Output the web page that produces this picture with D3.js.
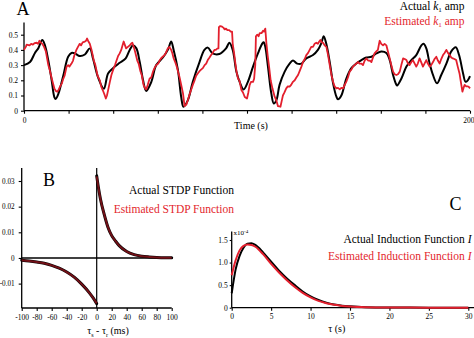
<!DOCTYPE html>
<html><head><meta charset="utf-8">
<script src="https://cdn.jsdelivr.net/npm/d3@7"></script>
<style>
body{margin:0;background:#fff}
svg{display:block}
text{font-family:"Liberation Serif","Times New Roman",serif}
</style>
</head><body>
<svg id="chart" width="474" height="338"></svg>
<script>
// ---- Panel A: k1 amplitude over time ----
const actualT = [0,2.7,4.9,6.4,8.2,9.4,10.9,12.4,13.6,14.2,15.4,17.6,19.8,21.3,22.8,25,27.3,29.5,31,33.2,35.8,37.7,39.9,42.9,45.6,47.4,48.9,50.4,51.9,53.4,54.8,57.1,59.3,62.3,64.5,66,67.1,69,70.5,71.5,73.5,75.7,78.7,80.9,82.4,84.6,87.6,90.6,92.1,93.6,95.2,96.7,98.5,100.4,102.7,104.9,106.9,107.5,108.2,109.4,110.9,112,113.2,114.6,116.9,119.1,120.6,122.5,124.4,126.6,129.6,131.8,133.3,134.4,135.5,137.1,138.6,140.1,140.8,142.3,144.5,146.8,149,151.3,153.5,155.8,158,160.2,162.5,164,165.5,167,167.3,169.2,171.5,173.7,175.9,178.2,179.2,180.4,181.9,183.4,185.2,187.1,189.4,191.6,193.6,195.1,196.9,198,199,200];
const actualK = [0.30,0.32,0.38,0.41,0.465,0.43,0.33,0.20,0.09,0.077,0.11,0.23,0.355,0.38,0.377,0.36,0.37,0.41,0.34,0.22,0.145,0.245,0.28,0.315,0.345,0.40,0.43,0.41,0.32,0.20,0.13,0.19,0.30,0.35,0.40,0.455,0.40,0.27,0.09,0.026,0.07,0.19,0.32,0.40,0.415,0.377,0.373,0.41,0.447,0.40,0.26,0.19,0.14,0.19,0.29,0.377,0.443,0.45,0.42,0.29,0.114,0.048,0.07,0.17,0.257,0.31,0.33,0.31,0.31,0.344,0.366,0.40,0.443,0.49,0.443,0.32,0.18,0.092,0.075,0.10,0.21,0.28,0.31,0.333,0.35,0.355,0.377,0.39,0.38,0.333,0.235,0.17,0.165,0.21,0.29,0.333,0.366,0.43,0.44,0.41,0.31,0.235,0.18,0.235,0.31,0.39,0.417,0.366,0.245,0.19,0.20,0.228];

const estT = [0,0.8,1.2,2.5,3.2,4,4.8,5.7,6.3,6.9,7.5,8.2,9,9.8,10.9,11.5,12.3,13,13.6,14.3,14.9,15.6,16.2,17,17.6,18.2,19.1,19.8,20.4,21.3,22,22.5,23.5,24.2,25,25.6,26.3,27.3,27.8,28.3,28.9,29.5,30.3,31.3,32,33,34,34.6,35.3,36,36.7,37.2,37.8,38.5,39.2,40,40.8,41.5,42.2,42.9,43.6,44.2,44.7,45.3,45.8,46.6,47.4,48,48.6,49.2,49.8,50.8,51.4,52.2,52.8,53.6,54.2,54.8,55.5,56.3,57.1,57.8,58.5,59.3,60.2,60.8,61.5,62.2,63,63.6,64.5,65.2,66,66.5,67.1,67.8,68.5,69.2,69.7,70.5,71.3,72,72.8,73.5,74.3,75,75.7,76.5,77.2,77.9,78.7,79.4,80.2,81,81.7,82.4,83.2,83.9,84.6,85.4,86,86.8,87.2,87.4,88,88.8,89.5,90,90.6,91.2,92,92.7,93.3,93.6,94.2,94.8,95.3,96,96.6,97.5,98.2,99,100,100.6,101.2,101.8,102.7,103.2,103.7,104,104.6,105.2,105.7,106.5,107.2,107.6,108.2,108.7,109.3,109.9,110.6,111.4,112.4,113.1,113.9,115,115.5,116.1,116.8,117.6,118.3,119.1,119.8,120.6,121.4,122.2,122.9,123.6,124.4,125.1,125.9,126.6,127.4,128.1,128.8,129.6,130.3,131.1,131.8,132.4,132.9,133.5,134.1,134.8,135.6,136.3,137.1,137.8,138.6,139.3,140.1,140.8,141.6,142.3,143.1,143.8,144.5,145.3,146,146.8,147.5,148.2,149,149.8,150.5,151.3,152,152.8,153.5,154.3,155,155.8,156.5,157.2,158,158.7,159.2,159.5,160.2,161,161.7,162.5,163.2,164,164.7,165.5,166.2,167,167.7,168.5,169.2,170,170.7,171.5,172.2,172.9,173.7,174.4,175.2,175.9,176.6,177.4,178.1,178.9,179.6,180.4,181.1,181.9,182.6,183.4,184.1,184.9,185.6,186.4,187.1,187.9,188.6,189.4,190.1,190.9,191.6,192.3,193,193.8,194.5,195.3,196,196.6,197.1,197.6,198.3,199.1,199.6,200];
const estK = [0.40,0.42,0.435,0.43,0.44,0.435,0.445,0.447,0.44,0.46,0.45,0.44,0.42,0.39,0.30,0.27,0.22,0.18,0.147,0.13,0.125,0.14,0.16,0.18,0.21,0.23,0.29,0.30,0.29,0.31,0.33,0.36,0.40,0.42,0.44,0.43,0.45,0.455,0.46,0.475,0.455,0.44,0.40,0.33,0.30,0.23,0.20,0.16,0.136,0.11,0.08,0.10,0.14,0.19,0.235,0.27,0.30,0.33,0.36,0.377,0.40,0.43,0.455,0.43,0.41,0.42,0.43,0.44,0.447,0.42,0.39,0.33,0.31,0.26,0.235,0.17,0.15,0.14,0.17,0.21,0.22,0.255,0.28,0.30,0.31,0.33,0.345,0.355,0.366,0.38,0.41,0.42,0.40,0.38,0.345,0.32,0.29,0.25,0.224,0.17,0.114,0.03,0.04,0.07,0.11,0.14,0.17,0.20,0.23,0.245,0.26,0.27,0.28,0.30,0.31,0.333,0.35,0.366,0.38,0.40,0.40,0.41,0.41,0.55,0.557,0.553,0.545,0.535,0.54,0.53,0.53,0.52,0.52,0.44,0.38,0.31,0.257,0.21,0.20,0.136,0.12,0.09,0.08,0.12,0.17,0.19,0.19,0.21,0.30,0.49,0.50,0.49,0.51,0.51,0.526,0.52,0.54,0.443,0.36,0.29,0.20,0.147,0.092,0.07,0.03,0.026,0.06,0.10,0.12,0.147,0.16,0.158,0.17,0.19,0.20,0.22,0.235,0.26,0.29,0.32,0.34,0.366,0.38,0.40,0.42,0.42,0.44,0.447,0.44,0.455,0.465,0.45,0.447,0.43,0.42,0.37,0.30,0.24,0.19,0.16,0.147,0.15,0.14,0.15,0.147,0.17,0.19,0.22,0.257,0.27,0.29,0.30,0.31,0.32,0.31,0.31,0.30,0.33,0.344,0.33,0.33,0.32,0.35,0.377,0.39,0.40,0.44,0.46,0.44,0.43,0.44,0.43,0.39,0.344,0.30,0.257,0.24,0.235,0.24,0.257,0.30,0.344,0.34,0.333,0.31,0.30,0.32,0.333,0.31,0.29,0.31,0.344,0.32,0.29,0.31,0.333,0.31,0.29,0.30,0.32,0.34,0.355,0.33,0.31,0.34,0.366,0.38,0.40,0.38,0.366,0.35,0.344,0.34,0.333,0.29,0.245,0.18,0.125,0.15,0.17,0.16,0.16,0.155,0.147];

const timeTicksA = [0,20,40,60,80,100,120,140,160,180,200];
const ampTicksA = [0,0.1,0.2,0.3,0.4,0.5];

// ---- Panel B: STDP function (two branches) ----
const stdpPreT = [-100,-90,-80,-70,-60,-50,-40,-30,-20,-10,-5,0];
const stdpPreActual = [-0.0009,-0.0012,-0.0016,-0.0021,-0.0029,-0.0040,-0.0055,-0.0075,-0.0102,-0.0135,-0.0155,-0.0178];
const stdpPreEst = [-0.0009,-0.0012,-0.0016,-0.0021,-0.0029,-0.0040,-0.0055,-0.0075,-0.0102,-0.0135,-0.0155,-0.0177];
const stdpPostT = [0,2,5,10,15,20,25,30,40,50,60,70,80,90,100];
const stdpPostActual = [0.032,0.028,0.023,0.017,0.012,0.0087,0.0066,0.0048,0.0025,0.0013,0.0007,0.0004,0.0002,0.0001,0.0001];
const stdpPostEst = [0.0318,0.028,0.023,0.017,0.012,0.0087,0.0066,0.0048,0.0025,0.0013,0.0007,0.0004,0.0002,0.0001,0.0001];
const lagTicksB = [-100,-80,-60,-40,-20,0,20,40,60,80,100];
const wTicksB = [-0.01,0,0.01,0.02,0.03];

// ---- Panel C: induction function (x10^-4) ----
const tauC = [0,0.5,1,1.5,2,2.5,3,4,5,6,7,8,9,10,11,12,13,14,15,17,20,25,30];
const inducActual = [0.32,0.85,1.15,1.33,1.42,1.43,1.39,1.22,1.02,0.82,0.65,0.50,0.36,0.25,0.17,0.11,0.07,0.045,0.03,0.012,0.004,0.001,0];
const inducEst = [0.72,1.05,1.27,1.37,1.40,1.39,1.35,1.18,0.97,0.78,0.61,0.46,0.33,0.23,0.15,0.10,0.065,0.04,0.025,0.01,0.003,0.001,0];
const tauTicksC = [0,5,10,15,20,25,30];
const valTicksC = [0,0.5,1.0,1.5];

const RED = "#e31f2d";
const svg = d3.select("#chart");
const zip = (xs, ys) => xs.map((x, i) => [x, ys[i]]);
// plain hyphen for negative numbers, as in the printed figure
const hy = s => String(s).replace("\u2212", "-");

function styleAxis(g, size) {
  g.select(".domain").remove();
  g.selectAll(".tick line").attr("stroke", "#000").attr("stroke-width", 1.1);
  g.selectAll(".tick text").attr("font-family", "Liberation Serif, serif").attr("font-size", size).attr("fill", "#000");
}
function vline(x, y1, y2, w) {
  svg.append("line").attr("x1", x).attr("x2", x).attr("y1", y1).attr("y2", y2).attr("stroke", "#000").attr("stroke-width", w || 1.3);
}
function hline(y, x1, x2, w) {
  svg.append("line").attr("x1", x1).attr("x2", x2).attr("y1", y).attr("y2", y).attr("stroke", "#000").attr("stroke-width", w || 1.3);
}

// ===== Panel A =====
const xA = d3.scaleLinear().domain([0, 200]).range([24, 470]);
const yA = d3.scaleLinear().domain([0, 0.5]).range([110.7, 34.7]);

svg.append("g").attr("transform", `translate(0,${yA(0)})`)
  .call(d3.axisBottom(xA).tickValues(timeTicksA).tickSize(3).tickPadding(4)
    .tickFormat(d => (d === 0 || d === 200) ? d : ""))
  .call(g => styleAxis(g, 7.5))
  .call(g => g.selectAll(".tick text").filter(d => d === 200).attr("text-anchor", "end").attr("dx", 4));
svg.append("g").attr("transform", `translate(${xA(0)},0)`)
  .call(d3.axisLeft(yA).tickValues(ampTicksA).tickSize(3).tickPadding(3)
    .tickFormat(d => d === 0 ? "0" : d3.format(".1f")(d)))
  .call(g => styleAxis(g, 7.5));
vline(xA(0), yA(0), yA(0.58));
hline(yA(0), xA(0), xA(200));

svg.append("path").datum(zip(actualT, actualK))
  .attr("d", d3.line().x(d => xA(d[0])).y(d => yA(d[1])).curve(d3.curveCatmullRom.alpha(0.5)))
  .attr("fill", "none").attr("stroke", "#000").attr("stroke-width", 2);
svg.append("path").datum(zip(estT, estK))
  .attr("d", d3.line().x(d => xA(d[0])).y(d => yA(d[1])))
  .attr("fill", "none").attr("stroke", RED).attr("stroke-width", 1.8).attr("stroke-linejoin", "round");

svg.append("text").attr("x", 16.5).attr("y", 15).attr("font-size", 18).text("A");
svg.append("text").attr("x", 251).attr("y", 129).attr("text-anchor", "middle").attr("font-size", 10).text("Time (s)");

function kLegend(y, label, color) {
  const t = svg.append("text").attr("x", 464.5).attr("y", y).attr("text-anchor", "end")
    .attr("font-size", 11.5).attr("fill", color);
  t.append("tspan").text(label + " ");
  t.append("tspan").attr("font-style", "italic").text("k");
  t.append("tspan").attr("font-size", 7).attr("dy", 2.5).text("1");
  t.append("tspan").attr("dy", -2.5).text(" amp");
}
kLegend(9.5, "Actual", "#000");
kLegend(24.5, "Estimated", RED);

// ===== Panel B =====
const xB = d3.scaleLinear().domain([-100, 100]).range([21.7, 171.7]);
const yB = d3.scaleLinear().domain([-0.01, 0.03]).range([283.6, 181]);

svg.append("g").attr("transform", `translate(0,308)`)
  .call(d3.axisBottom(xB).tickValues(lagTicksB).tickSize(3).tickPadding(3.5).tickFormat(d => hy(d)))
  .call(g => styleAxis(g, 7.5));
svg.append("g").attr("transform", `translate(${xB(-100)},0)`)
  .call(d3.axisLeft(yB).tickValues(wTicksB).tickSize(3).tickPadding(4)
    .tickFormat(d => d === 0 ? "0" : hy(d3.format(".2f")(d))))
  .call(g => styleAxis(g, 7.2));
vline(xB(-100), 168, 308);
hline(308, xB(-100), xB(100));
hline(yB(0), xB(-100), xB(100), 1.4);
vline(xB(0), 168, 308, 1.2);

const lineB = d3.line().x(d => xB(d[0])).y(d => yB(d[1])).curve(d3.curveMonotoneX);
[[stdpPreT, stdpPreActual], [stdpPostT, stdpPostActual]].forEach(([t, v]) => {
  svg.append("path").attr("d", lineB(zip(t, v))).attr("fill", "none")
    .attr("stroke", "#000").attr("stroke-width", 3).attr("stroke-linecap", "round");
});
[[stdpPreT, stdpPreEst], [stdpPostT, stdpPostEst]].forEach(([t, v]) => {
  svg.append("path").attr("d", lineB(zip(t, v))).attr("fill", "none")
    .attr("stroke", RED).attr("stroke-opacity", 0.5).attr("stroke-width", 2);
});

svg.append("text").attr("x", 43).attr("y", 186).attr("font-size", 18).text("B");
svg.append("text").attr("x", 234).attr("y", 194).attr("text-anchor", "end").attr("font-size", 11.5).text("Actual STDP Function");
svg.append("text").attr("x", 234).attr("y", 213).attr("text-anchor", "end").attr("font-size", 11.5).attr("fill", RED).text("Estimated STDP Function");

const lb = svg.append("text").attr("x", 108).attr("y", 334).attr("text-anchor", "middle").attr("font-size", 10);
lb.append("tspan").text("τ");
lb.append("tspan").attr("font-size", 6).attr("dy", 2.5).text("s");
lb.append("tspan").attr("dy", -2.5).text(" - τ");
lb.append("tspan").attr("font-size", 6).attr("dy", 2.5).text("r");
lb.append("tspan").attr("dy", -2.5).text(" (ms)");

// ===== Panel C =====
const xC = d3.scaleLinear().domain([0, 30]).range([231.7, 468.3]);
const yC = d3.scaleLinear().domain([0, 1.5]).range([307.7, 240]);

svg.append("g").attr("transform", `translate(0,${yC(0)})`)
  .call(d3.axisBottom(xC).tickValues(tauTicksC).tickSize(3).tickPadding(3))
  .call(g => styleAxis(g, 7.5));
svg.append("g").attr("transform", `translate(${xC(0)},0)`)
  .call(d3.axisLeft(yC).tickValues(valTicksC).tickSize(2).tickPadding(2)
    .tickFormat(d => d === 0 ? "0" : d3.format(".1f")(d)))
  .call(g => styleAxis(g, 7.5));
vline(xC(0), yC(0), 231.5);
hline(yC(0), xC(0), 474);

const lineC = d3.line().x(d => xC(d[0])).y(d => yC(d[1])).curve(d3.curveMonotoneX);
svg.append("path").attr("d", lineC(zip(tauC, inducActual))).attr("fill", "none")
  .attr("stroke", "#000").attr("stroke-width", 2);
svg.append("path").attr("d", lineC(zip(tauC, inducEst))).attr("fill", "none")
  .attr("stroke", RED).attr("stroke-width", 2);

const sc = svg.append("text").attr("x", 233.5).attr("y", 235).attr("font-size", 7);
sc.append("tspan").text("x10");
sc.append("tspan").attr("font-size", 5).attr("dy", -2.5).text("-4");

svg.append("text").attr("x", 449.5).attr("y", 210).attr("font-size", 18).text("C");
function iLegend(y, label, color) {
  const t = svg.append("text").attr("x", 471.5).attr("y", y).attr("text-anchor", "end")
    .attr("font-size", 11.5).attr("fill", color);
  t.append("tspan").text(label + " ");
  t.append("tspan").attr("font-style", "italic").text("I");
}
iLegend(243, "Actual Induction Function", "#000");
iLegend(260, "Estimated Induction Function", RED);

svg.append("text").attr("x", 336.7).attr("y", 331.5).attr("text-anchor", "middle").attr("font-size", 10).text("τ (s)");
</script>
</body></html>
